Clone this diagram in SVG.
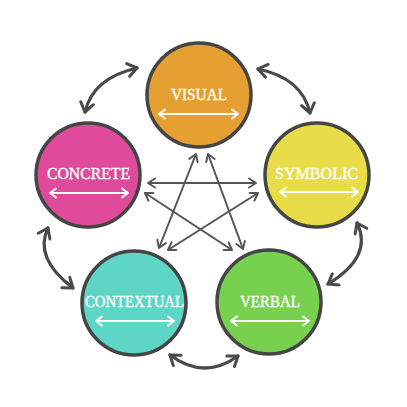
<svg xmlns="http://www.w3.org/2000/svg" width="407" height="407" viewBox="0 0 407 407">
<defs>
<marker id="ah" viewBox="-12 -8 14 16" markerWidth="14" markerHeight="16" refX="0" refY="0" orient="auto-start-reverse" markerUnits="userSpaceOnUse">
<path d="M-9,-6.5 L0,0 L-9,6.5" fill="none" stroke="#4a4a4a" stroke-width="3" stroke-linecap="round" stroke-linejoin="round"/>
</marker>
<marker id="ahs" viewBox="-10 -7 12 14" markerWidth="12" markerHeight="14" refX="0" refY="0" orient="auto-start-reverse" markerUnits="userSpaceOnUse">
<path d="M-7,-4.5 L0,0 L-7,4.5" fill="none" stroke="#555" stroke-width="2" stroke-linecap="round" stroke-linejoin="round"/>
</marker>
<marker id="ahw" viewBox="-10 -7 12 14" markerWidth="12" markerHeight="14" refX="0" refY="0" orient="auto-start-reverse" markerUnits="userSpaceOnUse">
<path d="M-6,-4.5 L0,0 L-6,4.5" fill="none" stroke="#fff" stroke-width="2" stroke-linecap="round" stroke-linejoin="round"/>
</marker>
</defs>
<style>
.c{stroke:#454545;stroke-width:3.5}
.t{font-family:"Liberation Serif","DejaVu Serif",serif;font-size:16.5px;fill:#fff;text-anchor:middle;stroke:#fff;stroke-width:0.35}
.w{stroke:#fff;stroke-width:2;fill:none;marker-start:url(#ahw);marker-end:url(#ahw)}
.arc{fill:none;stroke:#4a4a4a;stroke-width:3.2;stroke-linecap:round;marker-start:url(#ah);marker-end:url(#ah)}
.s{fill:none;stroke:#555;stroke-width:2;marker-start:url(#ahs);marker-end:url(#ahs)}
</style>
<rect width="407" height="407" fill="#fff"/>
<g id="connectors">
<path class="arc" d="M137,68 Q93,78 85,112"/>
<path class="arc" d="M258,69 Q302,78 310,113"/>
<path class="arc" d="M357,223 Q373.5,256.5 328,284"/>
<path class="arc" d="M48,228 Q33.5,258 73,288"/>
<path class="arc" d="M170,355 Q204,380.5 238,356"/>
<line class="s" x1="196" y1="154" x2="159" y2="248"/>
<line class="s" x1="208" y1="154" x2="243" y2="249"/>
<line class="s" x1="148" y1="183" x2="256" y2="183"/>
<line class="s" x1="145" y1="193" x2="232" y2="250"/>
<line class="s" x1="258" y1="193" x2="168" y2="250"/>
</g>
<g id="visual">
<circle class="c" cx="199" cy="95" r="52" fill="#E6A032"/>
<text class="t" x="199" y="100" textLength="56" lengthAdjust="spacingAndGlyphs">VISUAL</text>
<line class="w" x1="159" y1="114" x2="238" y2="114"/>
</g>
<g id="concrete">
<circle class="c" cx="88" cy="175" r="52" fill="#E04A9A"/>
<text class="t" x="88.5" y="179" textLength="83" lengthAdjust="spacingAndGlyphs">CONCRETE</text>
<line class="w" x1="50" y1="193" x2="128" y2="193"/>
</g>
<g id="symbolic">
<circle class="c" cx="317" cy="175" r="52" fill="#E8DD48"/>
<text class="t" x="316.5" y="179" textLength="83" lengthAdjust="spacingAndGlyphs">SYMBOLIC</text>
<line class="w" x1="280" y1="192" x2="358" y2="192"/>
</g>
<g id="contextual">
<circle class="c" cx="134" cy="303" r="52" fill="#5ED6C6"/>
<text class="t" x="134.5" y="307" textLength="99" lengthAdjust="spacingAndGlyphs">CONTEXTUAL</text>
<line class="w" x1="96" y1="321" x2="174" y2="321"/>
</g>
<g id="verbal">
<circle class="c" cx="269" cy="302" r="52" fill="#77D14F"/>
<text class="t" x="270" y="307" textLength="60" lengthAdjust="spacingAndGlyphs">VERBAL</text>
<line class="w" x1="231" y1="321" x2="309" y2="321"/>
</g>
</svg>
